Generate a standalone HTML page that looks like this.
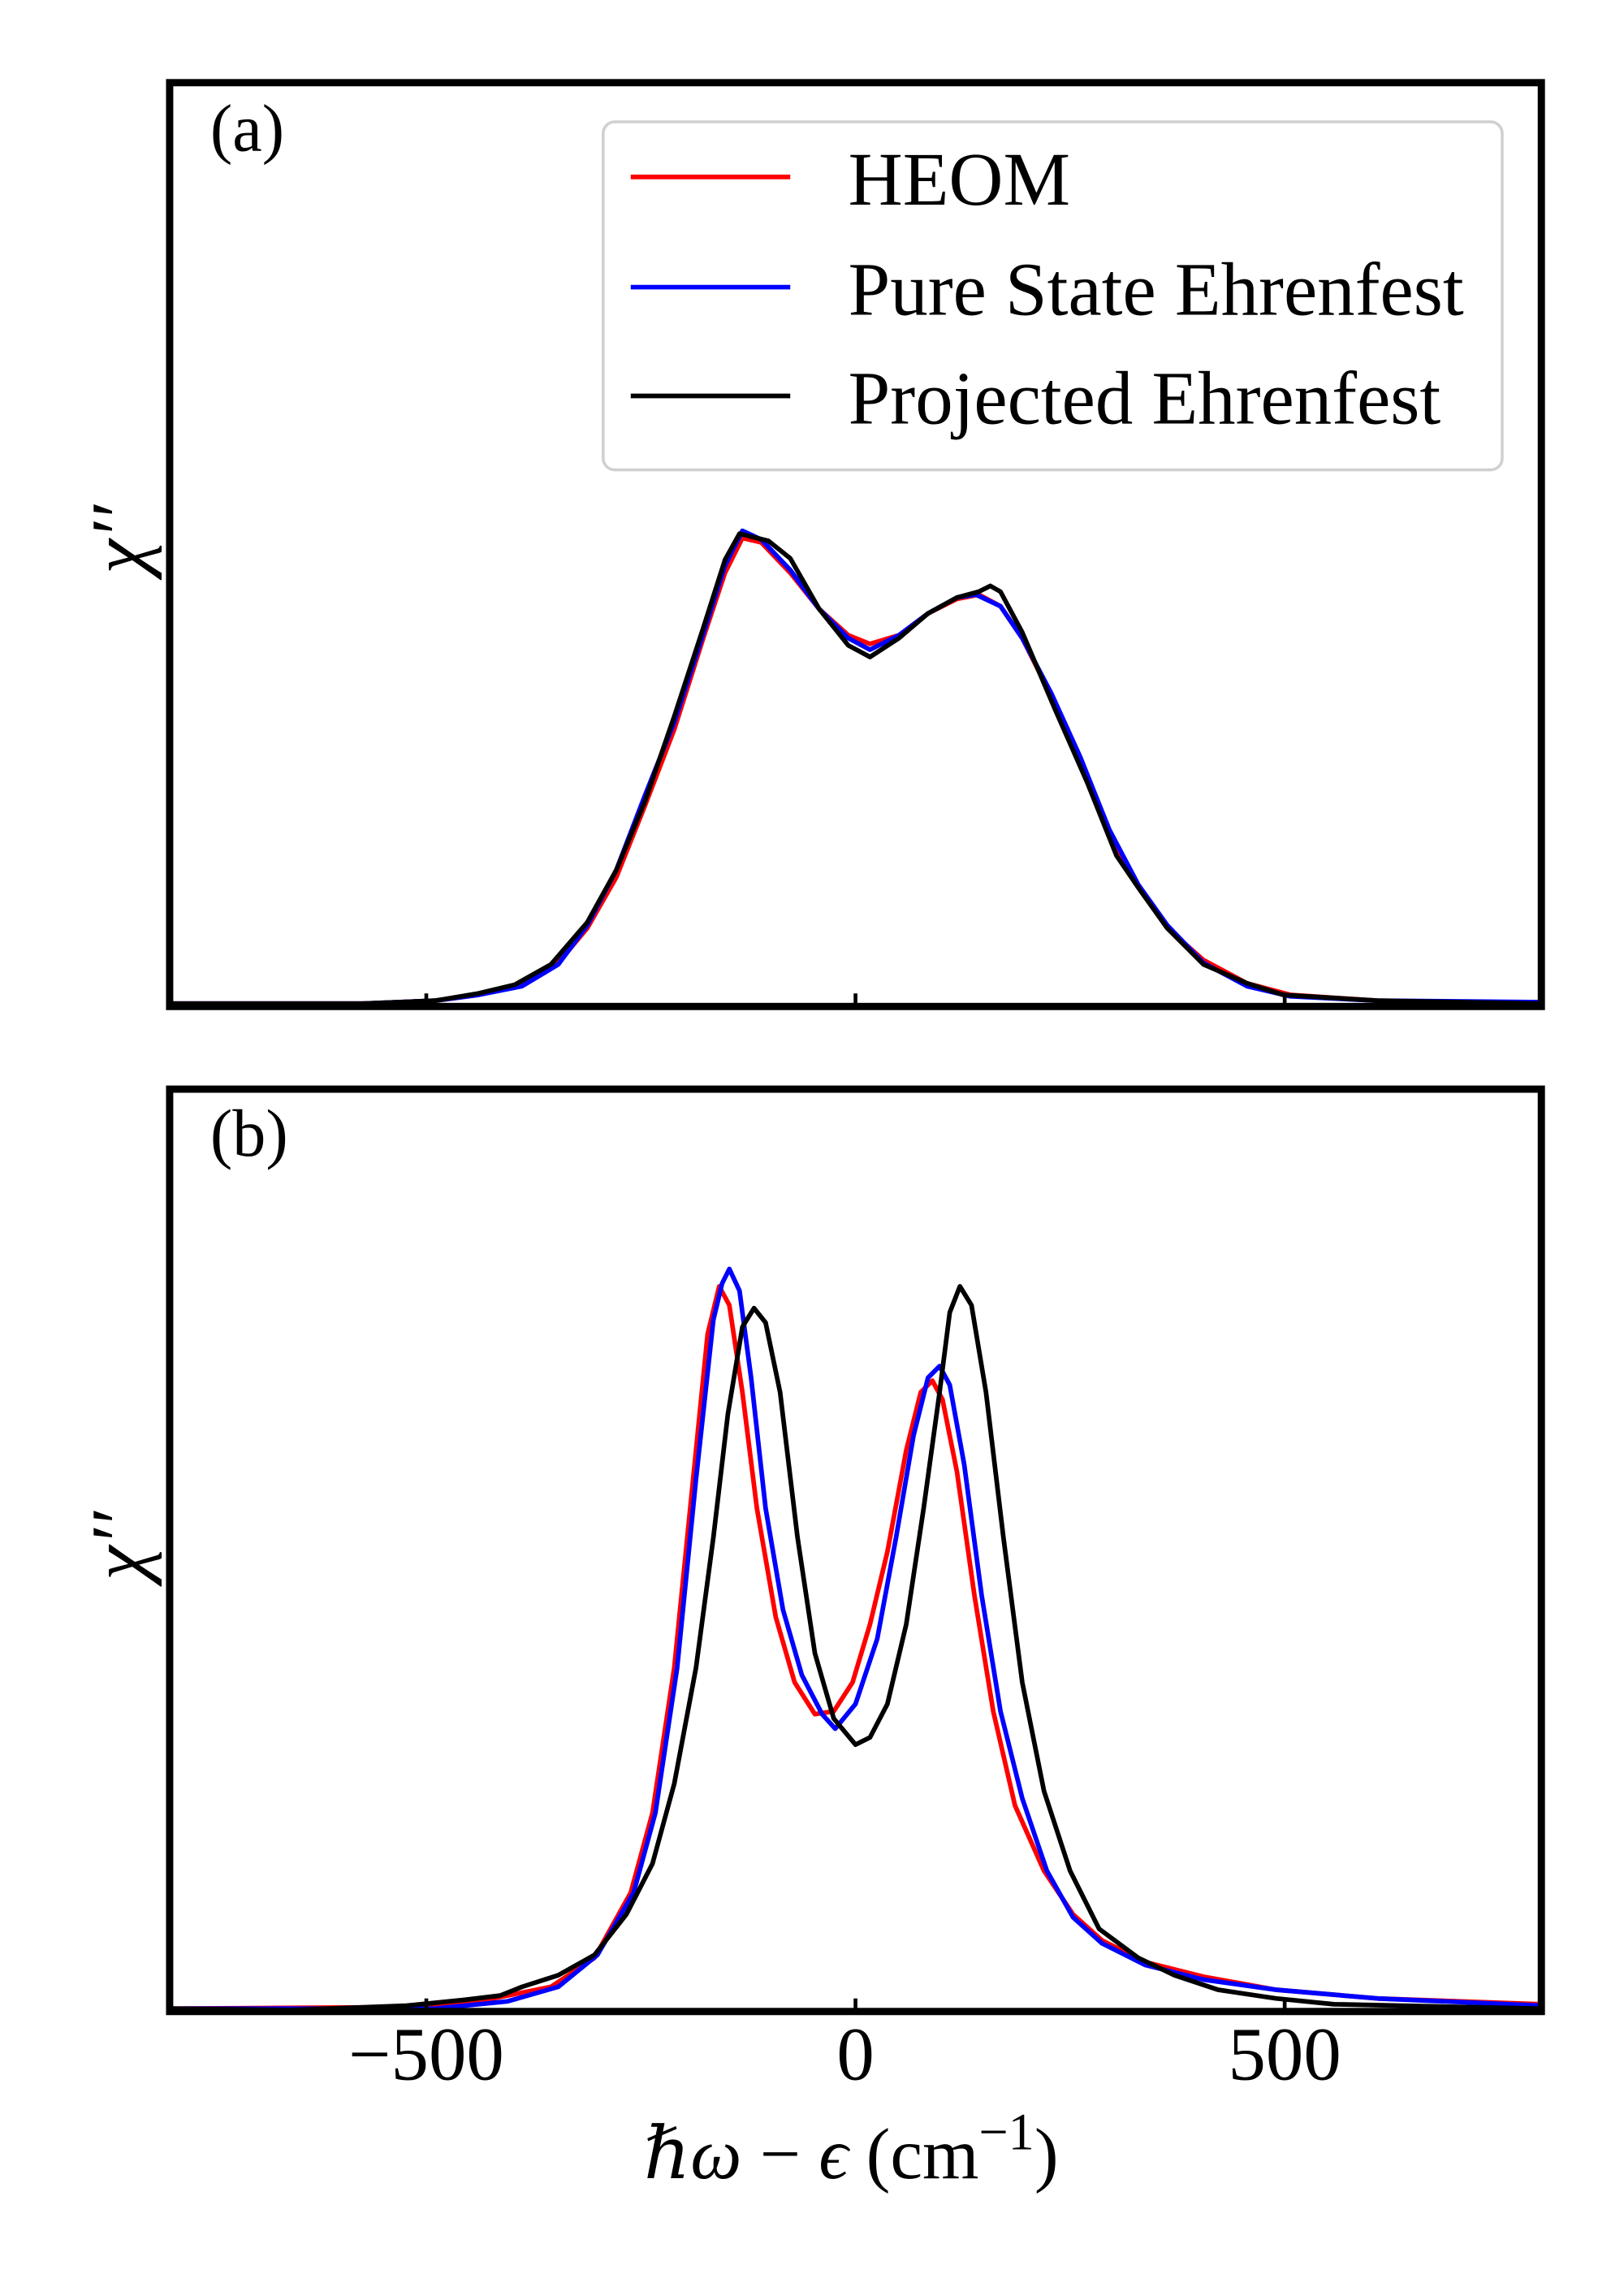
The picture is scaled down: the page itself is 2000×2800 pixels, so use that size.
<!DOCTYPE html>
<html><head><meta charset="utf-8"><style>
html,body{margin:0;padding:0;background:#fff;}
svg{display:block;}
text{font-family:"Liberation Serif","DejaVu Serif",serif;fill:#000;}
</style></head><body>
<svg width="2000" height="2800" viewBox="0 0 1120 1568" xmlns="http://www.w3.org/2000/svg">
<rect width="1120" height="1568" fill="#fff"/>
<g fill="none" stroke-width="3.2" stroke-linejoin="round" stroke-linecap="round">
<!-- panel a -->
<polyline stroke="#ff0000" points="117,692 250,692 300,690 330,686 360,679 385,664 405,640 425,605 445,555 465,503 485,440 500,395 512,371 525,374 545,395 565,420 585,438 600,444 620,438 640,423 660,413 675,410 690,418 705,440 725,480 745,525 765,574 785,611 805,640 830,662 860,678 890,686 950,690 1063,692"/>
<polyline stroke="#0000ff" points="117,692 250,692 300,690 330,686 360,680 385,665 405,638 425,600 445,548 465,498 485,437 500,390 512,366 525,372 545,393 565,420 585,440 600,448 620,438 640,423 660,412 673,410 690,418 705,440 725,478 745,522 765,572 785,610 805,638 830,664 860,680 890,687 950,690 1063,691"/>
<polyline stroke="#000000" points="117,692 250,692 300,690 330,685 355,679 380,665 405,636 425,600 445,552 465,494 485,433 500,386 510,368 530,373 545,385 565,420 585,445 600,453 620,440 640,423 660,412 675,408 683,404 690,408 705,436 728,490 750,540 770,590 785,612 805,640 830,665 860,678 885,686 950,690 1063,692"/>
<!-- panel b -->
<polyline stroke="#ff0000" points="117,1385 280,1384 330,1380 380,1370 410,1350 435,1305 450,1250 465,1150 478,1020 488,920 496,887 503,900 512,960 522,1040 535,1115 548,1160 562,1182 575,1180 588,1160 600,1120 612,1070 625,1000 635,960 643,952 650,965 660,1015 672,1100 685,1180 700,1245 720,1290 740,1320 760,1338 790,1353 830,1363 880,1372 950,1378 1063,1382"/>
<polyline stroke="#0000ff" points="117,1385 300,1385 350,1380 385,1370 412,1348 437,1305 452,1250 467,1150 480,1020 492,910 498,885 503,875 510,890 518,950 528,1040 540,1110 553,1155 567,1182 576,1192 590,1175 605,1130 618,1060 630,990 640,950 648,942 655,955 665,1010 677,1100 690,1180 705,1240 722,1290 740,1322 760,1340 790,1355 830,1365 880,1372 950,1378 1063,1383"/>
<polyline stroke="#000000" points="117,1385 200,1386 280,1383 320,1379 345,1376 360,1370 385,1362 410,1348 432,1320 450,1285 465,1230 480,1150 492,1060 502,975 512,915 520,902 528,912 538,960 550,1060 562,1140 575,1185 590,1203 600,1198 612,1175 625,1120 637,1040 648,960 655,905 662,887 670,900 680,960 692,1060 705,1160 720,1235 738,1290 758,1330 785,1350 810,1362 840,1372 880,1378 920,1382 1063,1385"/>
</g>
<!-- ticks -->
<g stroke="#000" stroke-width="2.6">
<line x1="294" y1="694" x2="294" y2="685"/><line x1="590" y1="694" x2="590" y2="685"/><line x1="886" y1="694" x2="886" y2="685"/>
<line x1="294" y1="1387" x2="294" y2="1378"/><line x1="590" y1="1387" x2="590" y2="1378"/><line x1="886" y1="1387" x2="886" y2="1378"/>
</g>
<!-- spines -->
<rect x="117" y="57" width="946" height="637" fill="none" stroke="#000" stroke-width="5"/>
<rect x="117" y="751" width="946" height="636" fill="none" stroke="#000" stroke-width="5"/>
<!-- legend -->
<rect x="416" y="84" width="620" height="240" rx="8" fill="#fff" fill-opacity="0.8" stroke="#d0d0d0" stroke-width="2"/>
<line x1="435" y1="122" x2="545" y2="122" stroke="#ff0000" stroke-width="3.2"/>
<line x1="435" y1="198" x2="545" y2="198" stroke="#0000ff" stroke-width="3.2"/>
<line x1="435" y1="273" x2="545" y2="273" stroke="#000" stroke-width="3.2"/>
<text x="585" y="141" font-size="52">HEOM</text>
<text x="585" y="217" font-size="52">Pure State Ehrenfest</text>
<text x="585" y="292" font-size="52">Projected Ehrenfest</text>
<!-- panel labels -->
<text x="145" y="104" font-size="46">(a)</text>
<text x="145" y="797" font-size="46">(b)</text>
<!-- y labels -->
<text transform="translate(100,372) rotate(-90)" text-anchor="middle" font-size="54" font-style="italic">χ′′</text>
<text transform="translate(100,1066) rotate(-90)" text-anchor="middle" font-size="54" font-style="italic">χ′′</text>
<!-- x tick labels -->
<text x="294" y="1434" font-size="52" text-anchor="middle">−500</text>
<text x="590" y="1434" font-size="52" text-anchor="middle">0</text>
<text x="886" y="1434" font-size="52" text-anchor="middle">500</text>
<!-- x label -->
<text x="587" y="1502" font-size="50" text-anchor="middle"><tspan font-style="italic">ℏω</tspan> − <tspan font-style="italic">ϵ</tspan> (cm<tspan dy="-20" font-size="36">−1</tspan><tspan dy="20">)</tspan></text>
</svg>
</body></html>
